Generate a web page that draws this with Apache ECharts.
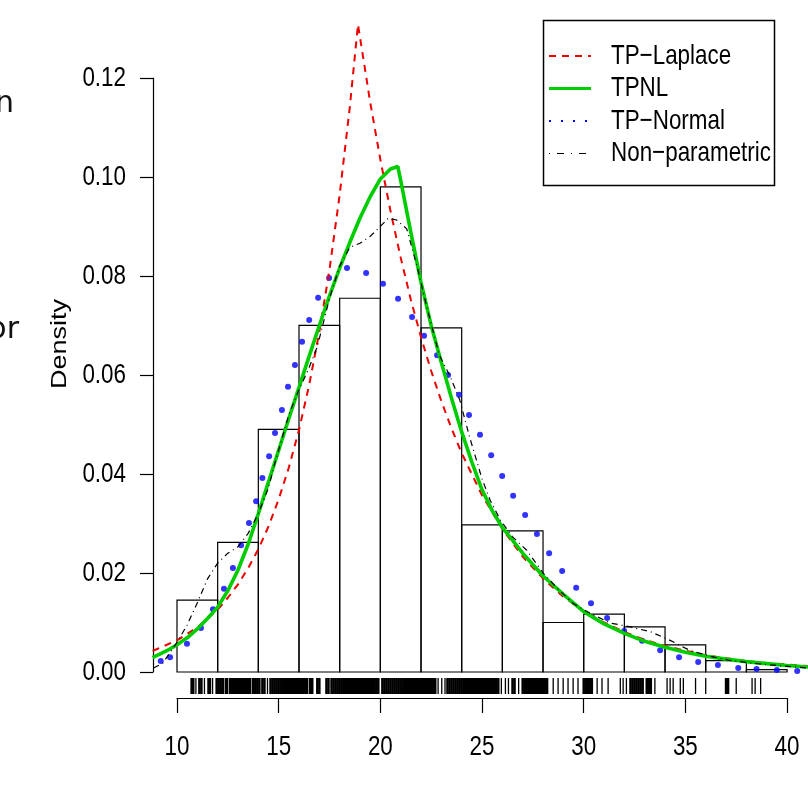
<!DOCTYPE html>
<html>
<head>
<meta charset="utf-8">
<title>Density</title>
<script src="https://cdn.jsdelivr.net/npm/echarts@6/dist/echarts.min.js"></script>
<style>
  html, body { margin: 0; padding: 0; background: #fff; }
  #chart { width: 808px; height: 799px; }
</style>
</head>
<body>
<div id="chart"></div>
<script>
// histogram: bin start and density (bins are 2 wide)
const binStarts = [10, 12, 14, 16, 18, 20, 22, 24, 26, 28, 30, 32, 34, 36, 38];
const binDensity = [0.0145, 0.0262, 0.0490, 0.0700, 0.0755, 0.0980, 0.0695, 0.0297, 0.0285, 0.0100, 0.0117, 0.0091, 0.0055, 0.0023, 0.0005];
const binWidth = 2;

// fitted densities [x, density]
const laplaceCurve = [
  [8.8, 0.0043], [9, 0.0046], [10, 0.0064], [11, 0.0090], [12, 0.0126], [12.5, 0.0150], [13, 0.0177],
  [13.5, 0.0210], [14, 0.0248], [14.5, 0.0294], [15, 0.0349], [15.5, 0.0413], [16, 0.0489], [16.5, 0.0580],
  [17, 0.0687], [17.5, 0.0813], [18, 0.0964], [18.5, 0.1142], [18.9, 0.1308], [19.5, 0.1151], [20, 0.1035],
  [20.5, 0.0931], [21, 0.0837], [21.5, 0.0752], [22, 0.0676], [22.5, 0.0608], [23, 0.0547], [23.5, 0.0492],
  [24, 0.0442], [25, 0.0357], [26, 0.0289], [27, 0.0233], [28, 0.0189], [29, 0.0152], [30, 0.0123],
  [31, 0.0100], [32, 0.0081], [33, 0.0065], [34, 0.0053], [35, 0.0043], [36, 0.0034], [37, 0.0028],
  [38, 0.0022], [39, 0.0018], [40, 0.0015], [41.1, 0.0012]
];

const tpnlCurve = [
  [8.8, 0.0029], [9, 0.0033], [9.5, 0.0043], [10, 0.0055], [10.5, 0.0069], [11, 0.0087], [11.5, 0.0108],
  [12, 0.0131], [12.5, 0.0164], [13, 0.0206], [13.5, 0.0258], [14, 0.0320], [14.5, 0.0384], [15, 0.0448],
  [15.5, 0.0512], [16, 0.0575], [16.5, 0.0638], [17, 0.0700], [17.5, 0.0760], [18, 0.0816], [18.5, 0.0868],
  [19, 0.0917], [19.5, 0.0960], [20, 0.0996], [20.5, 0.1016], [20.86, 0.1021], [21, 0.0993], [21.5, 0.0888],
  [22, 0.0787], [22.5, 0.0700], [23, 0.0625], [23.5, 0.0553], [24, 0.0485], [24.5, 0.0424], [25, 0.0368],
  [25.5, 0.0326], [26, 0.0292], [27, 0.0240], [28, 0.0194], [29, 0.0157], [30, 0.0122], [31, 0.0097],
  [32, 0.0078], [33, 0.0062], [34, 0.0050], [35, 0.0040], [36, 0.0032], [37, 0.0026], [38, 0.0021],
  [39, 0.0017], [40, 0.0013], [41.1, 0.0010]
];

// TP-Normal is drawn as dots, one per point
const normalDots = [
  [9.2, 0.0022], [9.66, 0.0030], [10.49, 0.0057], [11.18, 0.0089], [11.77, 0.0127], [12.31, 0.0168],
  [12.75, 0.0210], [13.15, 0.0256], [13.54, 0.0301], [13.89, 0.0345], [14.2, 0.0392], [14.53, 0.0436],
  [14.82, 0.0483], [15.16, 0.0529], [15.46, 0.0576], [15.8, 0.0620], [16.15, 0.0667], [16.5, 0.0711],
  [16.94, 0.0756], [17.48, 0.0796], [18.36, 0.0816], [19.3, 0.0806], [20.13, 0.0784], [20.87, 0.0754],
  [21.56, 0.0717], [22.15, 0.0679], [22.79, 0.0640], [23.33, 0.0600], [23.87, 0.0560], [24.36, 0.0519],
  [24.9, 0.0479], [25.45, 0.0438], [25.99, 0.0396], [26.53, 0.0356], [27.12, 0.0317], [27.7, 0.0279],
  [28.3, 0.0240], [28.94, 0.0204], [29.63, 0.0170], [30.36, 0.0139], [31.15, 0.0109], [31.99, 0.0083],
  [32.87, 0.0063], [33.76, 0.0044], [34.69, 0.0030], [35.63, 0.0020], [36.6, 0.0014], [37.6, 0.0008],
  [38.5, 0.0006], [39.5, 0.0004], [40.5, 0.0002]
];

const kernelCurve = [
  [8.85, 0.0008], [9.3, 0.0018], [10, 0.0060], [10.5, 0.0095], [11, 0.0140], [11.5, 0.0188], [12, 0.0220],
  [12.5, 0.0240], [13, 0.0253], [13.5, 0.0280], [14, 0.0320], [14.5, 0.0372], [14.8, 0.0420], [15.5, 0.0520],
  [16, 0.0570], [16.45, 0.0610], [16.9, 0.0657], [17.5, 0.0755], [18, 0.0820], [18.5, 0.0858], [19, 0.0866],
  [19.5, 0.0880], [20, 0.0900], [20.4, 0.0917], [20.8, 0.0913], [21.3, 0.0895], [21.8, 0.0820], [22.3, 0.0735],
  [22.9, 0.0640], [23.4, 0.0600], [23.9, 0.0550], [24.4, 0.0473], [25, 0.0390], [25.4, 0.0347], [25.9, 0.0307],
  [26.5, 0.0273], [27.2, 0.0246], [28, 0.0200], [28.8, 0.0165], [29.5, 0.0138], [30.3, 0.0119], [31.3, 0.0099],
  [32.3, 0.0091], [33.3, 0.0081], [34.2, 0.0065], [35.2, 0.0044], [36.2, 0.0032], [37.1, 0.0024],
  [38.5, 0.0017], [39.8, 0.0012], [41.1, 0.0008]
];

// observations shown as a rug under the histogram
const rugValues = [
  10.72, 10.8, 10.93, 11.1, 11.2, 11.35, 11.55, 11.62, 11.75, 11.95, 12.05, 12.15, 12.25, 12.4, 12.45,
  12.6, 12.7, 12.8, 12.85, 12.95, 13.0, 13.1, 13.2, 13.25, 13.35, 13.45, 13.55, 13.6, 13.75, 13.85, 13.95,
  14.05, 14.2, 14.3, 14.45, 14.6, 14.7, 14.8, 14.9, 15.0, 15.1,
  15.2, 15.3, 15.4, 15.5, 15.6, 15.7, 15.8, 15.9, 16.0, 16.1, 16.2, 16.3,
  16.4, 16.55, 16.65, 16.9, 17.0, 17.35, 17.45, 17.6,
  17.7, 17.8, 17.9, 18.0, 18.1, 18.2, 18.3, 18.4, 18.5, 18.6, 18.7, 18.8, 18.9, 19.0, 19.1, 19.2, 19.3,
  19.4, 19.5, 19.6, 19.7, 19.8, 19.9, 20.1, 20.2, 20.3, 20.4, 20.5, 20.6, 20.7, 20.8, 20.9, 21.0, 21.1,
  21.2, 21.3, 21.4, 21.5, 21.6, 21.7, 21.8, 21.9, 22.0, 22.1, 22.2, 22.3, 22.4, 22.5, 22.6, 22.7,
  22.84, 23.02, 23.18,
  23.3, 23.4, 23.5, 23.6, 23.7, 23.8, 23.9, 24.0, 24.1, 24.2, 24.3, 24.4,
  24.5, 24.6, 24.7, 24.8, 24.9, 25.0, 25.1, 25.2, 25.3, 25.4, 25.5, 25.6, 25.7, 25.8,
  25.95, 26.15, 26.3, 26.5, 26.6, 26.8,
  27.0, 27.1, 27.2, 27.3, 27.4, 27.5, 27.6, 27.7, 27.8, 27.9, 28.0, 28.1, 28.2,
  28.5, 28.74, 28.99, 29.23, 29.48, 29.72,
  30.0, 30.1, 30.2, 30.3, 30.4, 30.66, 30.9, 31.2,
  31.8, 31.94, 32.1, 32.3, 32.4, 32.5, 32.6, 32.7, 32.8, 32.9, 33.1, 33.2, 33.3, 33.5,
  34.1, 34.25, 34.4, 34.75, 34.9, 35.5, 36.0, 37.0, 37.1, 37.5, 38.28, 38.43, 38.7
];

const xTickValues = [10, 15, 20, 25, 30, 35, 40];
const xTickLabels = ['10', '15', '20', '25', '30', '35', '40'];
const yTickValues = [0, 0.02, 0.04, 0.06, 0.08, 0.10, 0.12];
const yTickLabels = ['0.00', '0.02', '0.04', '0.06', '0.08', '0.10', '0.12'];

const legendNames = ['TP\u2212Laplace', 'TPNL', 'TP\u2212Normal', 'Non\u2212parametric'];

// the plot text is horizontally squeezed, so draw it with a scaled Liberation Sans
const FONT = '"Liberation Sans", Arial, sans-serif';
const SQUEEZE = 0.8;
const RED = '#ee0000', GREEN = '#00cd00', BLUE = '#0000ff';

const chart = echarts.init(document.getElementById('chart'), null, { renderer: 'canvas' });

const hiddenAxis = { show: false };

function textStyle(text, size, align, vAlign) {
  return {
    text: text, fontSize: size, fontFamily: FONT, fill: '#000',
    textAlign: align, align: align, textVerticalAlign: vAlign, verticalAlign: vAlign
  };
}

// fixed decorations: cut-off page text, axis title, legend box
const baseGraphic = [
  { type: 'text', x: 14, y: 104, style: { text: 'n', fontSize: 30, fontFamily: 'DejaVu Sans', fill: '#111', textAlign: 'right', align: 'right', textVerticalAlign: 'middle', verticalAlign: 'middle' } },
  { type: 'text', x: 19, y: 330, style: { text: 'or', fontSize: 30, fontFamily: 'DejaVu Sans', fill: '#111', textAlign: 'right', align: 'right', textVerticalAlign: 'middle', verticalAlign: 'middle' } },
  { type: 'text', x: 60, y: 344, rotation: Math.PI / 2, scaleY: SQUEEZE, style: textStyle('Density', 27, 'center', 'middle') },
  { type: 'rect', shape: { x: 543.5, y: 20.5, width: 231, height: 165 }, style: { fill: '#fff', stroke: '#000', lineWidth: 1.5 }, z: 10 },
  { type: 'line', shape: { x1: 549, y1: 56, x2: 591, y2: 56 }, style: { stroke: RED, lineWidth: 2, lineDash: [7, 6] }, z: 11 },
  { type: 'line', shape: { x1: 549, y1: 88.5, x2: 591, y2: 88.5 }, style: { stroke: GREEN, lineWidth: 3 }, z: 11 },
  { type: 'line', shape: { x1: 549, y1: 121, x2: 591, y2: 121 }, style: { stroke: BLUE, lineWidth: 2.2, lineDash: [2, 10] }, z: 11 },
  { type: 'line', shape: { x1: 549, y1: 153.5, x2: 591, y2: 153.5 }, style: { stroke: '#000', lineWidth: 1.2, lineDash: [1, 7, 7, 7] }, z: 11 },
  ...legendNames.map((name, i) => ({
    type: 'text', x: 611, y: 56 + i * 32.5, z: 11, scaleX: SQUEEZE,
    style: textStyle(name, 28, 'left', 'middle')
  }))
];

const option = {
  animation: false,
  backgroundColor: '#fff',
  grid: [
    // plot region
    { left: 153, right: 0, top: 20, bottom: 101 },
    // y axis (only from 0 to 0.12, like R)
    { left: 153, right: 0, top: 78, bottom: 127 },
    // x axis, below the rug
    { left: 177, right: 21, top: 690, bottom: 101 }
  ],
  xAxis: [
    { gridIndex: 0, type: 'value', min: 8.82, max: 41.03, ...hiddenAxis },
    { gridIndex: 1, type: 'value', min: 8.82, max: 41.03, ...hiddenAxis },
    {
      gridIndex: 2, type: 'value', min: xTickValues[0], max: xTickValues[xTickValues.length - 1], interval: 5,
      axisLine: { show: true, lineStyle: { color: '#000', width: 1.2 } },
      axisTick: { show: true, length: 15, lineStyle: { color: '#000', width: 1.2 } },
      axisLabel: { show: false },
      splitLine: { show: false }
    }
  ],
  yAxis: [
    { gridIndex: 0, type: 'value', min: -0.00525, max: 0.1317, ...hiddenAxis },
    {
      gridIndex: 1, type: 'value', min: yTickValues[0], max: yTickValues[yTickValues.length - 1], interval: 0.02,
      axisLine: { show: true, lineStyle: { color: '#000', width: 1.2 } },
      axisTick: { show: true, length: 13, lineStyle: { color: '#000', width: 1.2 } },
      axisLabel: { show: false },
      splitLine: { show: false }
    },
    { gridIndex: 2, type: 'value', min: 0, max: 1, ...hiddenAxis }
  ],
  series: [
    {
      name: 'hist',
      type: 'custom',
      xAxisIndex: 0, yAxisIndex: 0,
      data: binStarts.map((s, i) => [s, binDensity[i]]),
      renderItem: (params, api) => {
        const x0 = api.value(0);
        const top = api.coord([x0, api.value(1)]);
        const bottom = api.coord([x0 + binWidth, 0]);
        return {
          type: 'rect',
          shape: { x: top[0], y: top[1], width: bottom[0] - top[0], height: bottom[1] - top[1] },
          style: { fill: 'none', stroke: '#000', lineWidth: 1.2 }
        };
      },
      silent: true
    },
    {
      name: 'rug',
      type: 'custom',
      xAxisIndex: 0, yAxisIndex: 0,
      data: rugValues.map(v => [v, 0]),
      renderItem: (params, api) => {
        const i = params.dataIndex;
        const v = rugValues[i];
        const gapL = i > 0 ? v - rugValues[i - 1] : 1;
        const gapR = i < rugValues.length - 1 ? rugValues[i + 1] - v : 1;
        // close neighbours merge into a solid band
        const w = Math.min(gapL, gapR) <= 0.11 ? 2.5 : 1.3;
        const p = api.coord([v, 0]);
        return {
          type: 'line',
          shape: { x1: p[0], y1: p[1] + 6, x2: p[0], y2: p[1] + 22 },
          style: { stroke: '#000', lineWidth: w }
        };
      },
      silent: true
    },
    {
      name: legendNames[0], type: 'line', xAxisIndex: 0, yAxisIndex: 0,
      data: laplaceCurve, showSymbol: false, symbol: 'none',
      lineStyle: { color: RED, width: 2, type: [7, 6] }, silent: true
    },
    {
      name: legendNames[1], type: 'line', xAxisIndex: 0, yAxisIndex: 0,
      data: tpnlCurve, showSymbol: false, symbol: 'none',
      lineStyle: { color: GREEN, width: 3.6 }, silent: true
    },
    {
      name: legendNames[2], type: 'scatter', xAxisIndex: 0, yAxisIndex: 0,
      data: normalDots, symbol: 'circle', symbolSize: 6,
      itemStyle: { color: BLUE }, silent: true
    },
    {
      name: legendNames[3], type: 'line', xAxisIndex: 0, yAxisIndex: 0,
      data: kernelCurve, showSymbol: false, symbol: 'none',
      lineStyle: { color: '#000', width: 1.2, type: [6, 4, 1, 4] }, silent: true
    }
  ],
  graphic: baseGraphic
};

chart.setOption(option);

// tick labels placed from the axis scales, drawn squeezed like the original
const xLine = chart.convertToPixel({ yAxisIndex: 2 }, 0);
const yLine = chart.convertToPixel({ xAxisIndex: 1 }, 8.82);
const tickLabelGraphic = [
  ...xTickValues.map((v, i) => ({
    type: 'text', x: chart.convertToPixel({ xAxisIndex: 2 }, v), y: xLine + 49, scaleX: SQUEEZE,
    style: textStyle(xTickLabels[i], 28, 'center', 'middle')
  })),
  ...yTickValues.map((v, i) => ({
    type: 'text', x: yLine - 27, y: chart.convertToPixel({ yAxisIndex: 1 }, v), scaleX: SQUEEZE,
    style: textStyle(yTickLabels[i], 28, 'right', 'middle')
  }))
];

chart.setOption({ graphic: baseGraphic.concat(tickLabelGraphic) });
</script>
</body>
</html>
